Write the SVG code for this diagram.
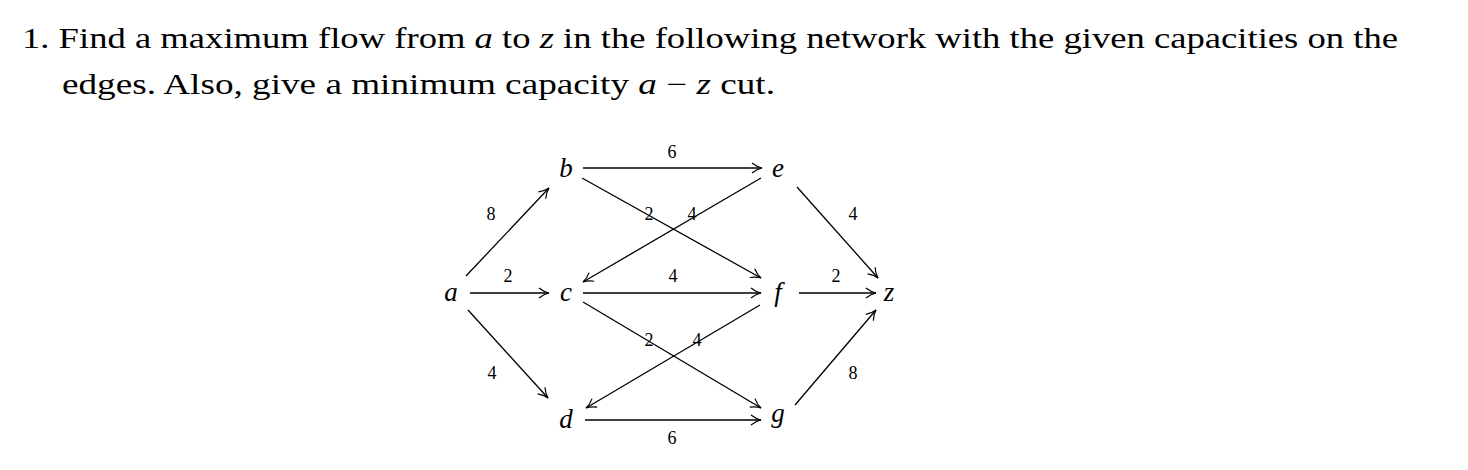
<svg xmlns="http://www.w3.org/2000/svg" width="1468" height="470" viewBox="0 0 1468 470">
<style>
text{font-family:"Liberation Serif","DejaVu Serif",serif;fill:#000}
.h{font-size:29px}
.n{font-size:27px;font-style:italic;text-anchor:middle}
.l{font-size:18px;text-anchor:middle}
line{stroke:#000;stroke-width:1.3;marker-end:url(#ar)}
</style>
<defs><marker id="ar" viewBox="0 0 12 12" refX="11" refY="6" markerWidth="12" markerHeight="12" markerUnits="userSpaceOnUse" orient="auto"><path d="M1,1 Q6,5 11,6 Q6,7 1,11" fill="none" stroke="#000" stroke-width="1.2"/></marker></defs>
<rect width="1468" height="470" fill="#fff"/>
<text class="h" x="22" y="48" textLength="1376" lengthAdjust="spacingAndGlyphs">1. Find a maximum flow from <tspan font-style="italic">a</tspan> to <tspan font-style="italic">z</tspan> in the following network with the given capacities on the</text>
<text class="h" x="62" y="94" textLength="713" lengthAdjust="spacingAndGlyphs">edges. Also, give a minimum capacity <tspan font-style="italic">a</tspan> − <tspan font-style="italic">z</tspan> cut.</text>
<g id="connectors">
<line x1="466" y1="276" x2="549" y2="188"/>
<line x1="470" y1="293" x2="549" y2="293"/>
<line x1="468" y1="310" x2="548" y2="398"/>
<line x1="583" y1="168" x2="762" y2="168"/>
<line x1="582" y1="178" x2="761" y2="278"/>
<line x1="761" y1="178" x2="583" y2="282"/>
<line x1="583" y1="293" x2="761" y2="293"/>
<line x1="583" y1="302" x2="761" y2="408"/>
<line x1="760" y1="305" x2="586" y2="408"/>
<line x1="585" y1="420" x2="761" y2="420"/>
<line x1="797" y1="187" x2="878" y2="278"/>
<line x1="799" y1="293" x2="876" y2="293"/>
<line x1="795" y1="405" x2="876" y2="310"/>
<text class="l" x="491" y="220">8</text>
<text class="l" x="508" y="282">2</text>
<text class="l" x="492" y="379">4</text>
<text class="l" x="672" y="158">6</text>
<text class="l" x="649" y="220">2</text>
<text class="l" x="692" y="220">4</text>
<text class="l" x="673" y="282">4</text>
<text class="l" x="649" y="346">2</text>
<text class="l" x="697" y="346">4</text>
<text class="l" x="672" y="444">6</text>
<text class="l" x="853" y="220">4</text>
<text class="l" x="836" y="282">2</text>
<text class="l" x="853" y="379">8</text>
</g>
<g id="a"><text class="n" x="451" y="301">a</text></g>
<g id="b"><text class="n" x="566" y="177">b</text></g>
<g id="c"><text class="n" x="566" y="301">c</text></g>
<g id="d"><text class="n" x="566" y="428">d</text></g>
<g id="e"><text class="n" x="778" y="177">e</text></g>
<g id="f"><text class="n" x="778" y="301">f</text></g>
<g id="g"><text class="n" x="778" y="422">g</text></g>
<g id="z"><text class="n" x="889" y="301">z</text></g>
</svg>
